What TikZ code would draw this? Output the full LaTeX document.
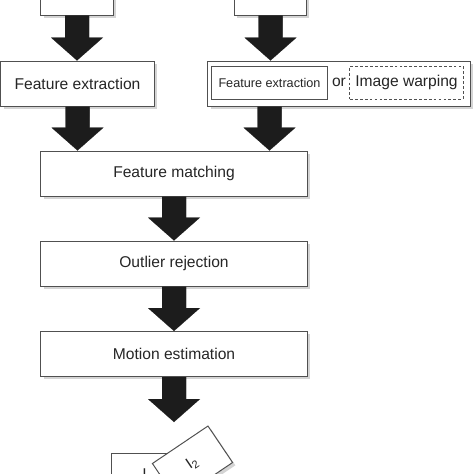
\documentclass[tikz,border=0pt]{standalone}
\usepackage{fontspec}
\setmainfont{Liberation Sans}
\usetikzlibrary{calc,shadows}
\definecolor{boxline}{HTML}{505050}
\definecolor{arrowfill}{HTML}{1C1C1C}
\definecolor{shade}{HTML}{D4D4D4}
\def\fatarrow(#1)(#2){%
	\path (#1) coordinate (fa-s) (#2) coordinate (fa-t);
	\foreach \sh/\col in {3/shade, 0/arrowfill}{
		\fill[\col, shift={(\sh,\sh)}] ($(fa-s)+(-12,0)$) -- ($(fa-t)+(-12,-23)$) -- ($(fa-t)+(-26,-23)$) -- (fa-t) -- ($(fa-t)+(26,-23)$) -- ($(fa-t)+(12,-23)$) -- ($(fa-s)+(12,0)$) -- cycle;
	}
}
\tikzset{
	box/.style={draw=boxline, line width=0.7pt, fill=white, text=black!85, inner sep=0pt,
		drop shadow={shadow xshift=0.07cm, shadow yshift=-0.07cm, fill=shade, opacity=1}},
	innerbox/.style={draw=boxline, line width=0.7pt, fill=white, text=black!85, inner sep=0pt, minimum height=0.825cm},
	widebox/.style={box, minimum width=6.65cm, minimum height=1.125cm}
}
\begin{document}
\begin{tikzpicture}[x=0.025cm, y=-0.025cm, font=\fontsize{11.1}{13}\selectfont]
	\useasboundingbox (0,0) rectangle (474,474);
	
	% input images
	\node[box, minimum width=1.8cm, minimum height=1.2cm] (i1) at (77,-9) {I\textsubscript{1}};
	\node[box, minimum width=1.8cm, minimum height=1.2cm] (i2) at (270.5,-9) {I\textsubscript{2}};
	
	% extraction
	\node[box, minimum width=3.825cm, minimum height=1.125cm] (fel) at (77.5,83.5) {Feature extraction};
	\node[box, minimum width=6.55cm, minimum height=1.125cm] (fxr) at (339,83.5) {};
	\node[innerbox, minimum width=2.875cm, font=\fontsize{9}{11}\selectfont] (fer) at (269.5,82.5) {Feature extraction};
	\node[text=black!85] (or) at (339,82.5) {or};
	\node[innerbox, dash pattern=on 2pt off 1.5pt, minimum width=2.825cm] (fwr) at (406.5,82.5) {Image warping};
	
	% pipeline
	\node[widebox] (fm) at (174,173.5) {Feature matching};
	\node[widebox] (orj) at (174,263.5) {Outlier rejection};
	\node[widebox] (me) at (174,354) {Motion estimation};
	\coordinate (mtip) at (174,422);
	
	% aligned images
	\node[box, minimum width=1.8cm, minimum height=1.125cm] (b1) at (148,475.5) {I\textsubscript{1}};
	\node[box, rotate=34, minimum width=1.675cm, minimum height=1.1cm] (b2) at (192.5,463) {I\textsubscript{2}};
	
	\fatarrow(i1.south)(i1.south |- fel.north)
	\fatarrow(i2.south)(i2.south |- fxr.north)
	\fatarrow(fel.south)(fel.south |- fm.north)
	\fatarrow(fer.south |- fxr.south)(fer.south |- fm.north)
	\fatarrow(fm.south)(orj.north)
	\fatarrow(orj.south)(me.north)
	\fatarrow(me.south)(mtip)
\end{tikzpicture}
\end{document}
